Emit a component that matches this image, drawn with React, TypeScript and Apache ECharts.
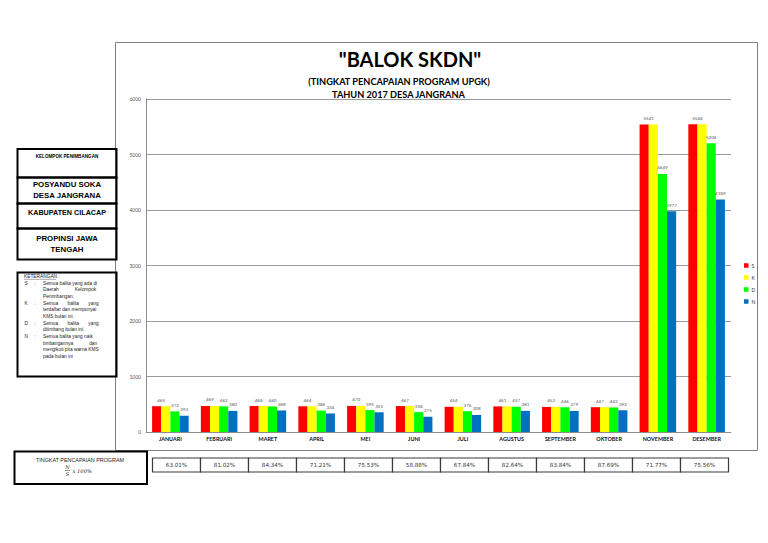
import React, { useEffect, useRef } from "react";
import * as echarts from "echarts";

const months = ["JANUARI", "FEBRUARI", "MARET", "APRIL", "MEI", "JUNI", "JULI", "AGUSTUS", "SEPTEMBER", "OKTOBER", "NOVEMBER", "DESEMBER"];
const sValues = [465, 469, 468, 464, 470, 467, 454, 461, 452, 447, 5541, 5544];
const kValues = [465, 469, 468, 464, 470, 467, 454, 461, 452, 447, 5541, 5544];
const dValues = [372, 462, 460, 386, 395, 358, 376, 457, 446, 442, 4649, 5204];
const nValues = [293, 380, 388, 334, 355, 275, 308, 381, 379, 392, 3977, 4189];
const achievement = ["63.01%", "81.02%", "84.34%", "71.21%", "75.53%", "58.88%", "67.84%", "82.64%", "83.84%", "87.69%", "71.77%", "75.56%"];
const yTicks = { min: 0, max: 6000, interval: 1000 };

const keterangan: [string, string][] = [
  ["S", "Semua balita yang ada di"],
  ["", "Daerah            Kelompok"],
  ["", "Penimbangan."],
  ["K", "Semua       balita       yang"],
  ["", "terdaftar dan mempunyai"],
  ["", "KMS bulan ini."],
  ["D", "Semua       balita       yang"],
  ["", "ditimbang bulan ini."],
  ["N", "Semua balita yang naik"],
  ["", "timbangannya            dan"],
  ["", "mengikuti pita warna KMS"],
  ["", "pada bulan ini"],
];

export default function App() {
  const ref = useRef<HTMLDivElement>(null);
  useEffect(() => {
    const chart = echarts.init(ref.current!, null, { renderer: "svg" });
    const arial = '"Liberation Sans", Arial, sans-serif';
    const cal = 'Lato, "Open Sans", sans-serif';
    const graphics: any[] = [];
    // outer chart box
    graphics.push({ type: "rect", shape: { x: 115.5, y: 42.5, width: 642, height: 408 }, style: { fill: "none", stroke: "#7f7f7f", lineWidth: 1 }, z: 0 });
    // title
    graphics.push({ type: "text", style: { x: 410, y: 58.5, text: '"BALOK SKDN"', textAlign: "center", textVerticalAlign: "middle", fontFamily: cal, fontWeight: "bold", fontSize: 20, fill: "#000" } });
    graphics.push({ type: "text", style: { x: 399, y: 81, text: "(TINGKAT PENCAPAIAN PROGRAM UPGK)", textAlign: "center", textVerticalAlign: "middle", fontFamily: cal, fontWeight: "bold", fontSize: 9.2, fill: "#000" } });
    graphics.push({ type: "text", style: { x: 398.5, y: 94, text: "TAHUN 2017 DESA JANGRANA", textAlign: "center", textVerticalAlign: "middle", fontFamily: cal, fontWeight: "bold", fontSize: 9.2, fill: "#000" } });
    // left info boxes
    const boxes = [
      [149, 177.5],
      [177.5, 203.5],
      [203.5, 228.5],
      [228.5, 259.5],
    ];
    boxes.forEach(([t, b]) => {
      graphics.push({ type: "rect", shape: { x: 17.5, y: t, width: 99, height: b - t }, style: { fill: "none", stroke: "#000", lineWidth: 2 } });
    });
    const boxText = (x: number, y: number, text: string, size: number) => ({ type: "text", style: { x, y, text, textAlign: "center", textVerticalAlign: "middle", fontFamily: arial, fontWeight: "bold", fontSize: size, fill: "#000" } });
    graphics.push(boxText(67, 156.5, "KELOMPOK PENIMBANGAN", 4.6));
    graphics.push(boxText(67, 184.5, "POSYANDU SOKA", 7.8));
    graphics.push(boxText(67, 195.5, "DESA JANGRANA", 7.8));
    graphics.push(boxText(67, 212.5, "KABUPATEN CILACAP", 7.2));
    graphics.push(boxText(67, 238, "PROPINSI JAWA", 7.8));
    graphics.push(boxText(67, 249.5, "TENGAH", 7.8));
    // keterangan box
    graphics.push({ type: "rect", shape: { x: 17.5, y: 272.5, width: 99, height: 104 }, style: { fill: "none", stroke: "#000", lineWidth: 2 } });
    const small = (x: number, y: number, text: string) => ({ type: "text", style: { x, y, text, textAlign: "left", textVerticalAlign: "middle", fontFamily: arial, fontSize: 4.8, fill: "#222" } });
    graphics.push(small(24, 276.5, "KETERANGAN :"));
    graphics.push({ type: "line", shape: { x1: 24, y1: 279.3, x2: 56, y2: 279.3 }, style: { stroke: "#222", lineWidth: 0.4 } });
    keterangan.forEach(([k, t], i) => {
      const y = 283.2 + i * 6.65;
      if (k) {
        graphics.push(small(24.5, y, k));
        graphics.push(small(34.5, y, ":"));
      }
      graphics.push(small(43, y, t));
    });
    // bottom-left box
    graphics.push({ type: "rect", shape: { x: 14.5, y: 451.5, width: 132.5, height: 32.5 }, style: { fill: "none", stroke: "#000", lineWidth: 2 } });
    graphics.push({ type: "text", style: { x: 80, y: 460, text: "TINGKAT PENCAPAIAN PROGRAM", textAlign: "center", textVerticalAlign: "middle", fontFamily: arial, fontSize: 5.4, fill: "#222" } });
    const serif = '"DejaVu Serif", serif';
    graphics.push({ type: "text", style: { x: 67.5, y: 467.2, text: "N", textAlign: "center", textVerticalAlign: "middle", fontFamily: serif, fontStyle: "italic", fontSize: 5, fill: "#222" } });
    graphics.push({ type: "line", shape: { x1: 65, y1: 470.5, x2: 70, y2: 470.5 }, style: { stroke: "#222", lineWidth: 0.5 } });
    graphics.push({ type: "text", style: { x: 67.5, y: 474.2, text: "S", textAlign: "center", textVerticalAlign: "middle", fontFamily: serif, fontStyle: "italic", fontSize: 5, fill: "#222" } });
    graphics.push({ type: "text", style: { x: 72.5, y: 471, text: "x 100%", textAlign: "left", textVerticalAlign: "middle", fontFamily: serif, fontStyle: "italic", fontSize: 5.2, fill: "#222" } });
    // achievement table
    achievement.forEach((v, i) => {
      const x = 152 + i * 48;
      graphics.push({ type: "rect", shape: { x: x + 0.5, y: 458, width: 48, height: 14 }, style: { fill: "#fff", stroke: "#3a3a3a", lineWidth: 1.2 } });
      graphics.push({ type: "text", style: { x: x + 24.5, y: 465, text: v, textAlign: "center", textVerticalAlign: "middle", fontFamily: '"DejaVu Sans", sans-serif', fontSize: 5.6, fill: "#333" } });
    });

    const lbl = (offset: number[]) => ({ show: true, position: "top", distance: 3.5, offset, fontSize: 4.5, color: "#555", fontFamily: cal });
    const option: any = {
      animation: false,
      backgroundColor: "#fff",
      grid: { left: 146, right: 37, top: 99, bottom: 111, containLabel: false },
      legend: {
        orient: "vertical",
        left: 739,
        top: 258,
        itemWidth: 4.5,
        itemHeight: 4.5,
        itemGap: 7,
        icon: "rect",
        textStyle: { fontSize: 5, color: "#333", fontFamily: cal, padding: [0, 0, 0, -2] },
        data: ["S", "K", "D", "N"],
      },
      xAxis: {
        type: "category",
        data: months,
        axisLine: { lineStyle: { color: "#8c8c8c", width: 1 } },
        axisTick: { show: false },
        axisLabel: { fontSize: 5.4, fontWeight: "bold", color: "#111", margin: 4, fontFamily: cal },
      },
      yAxis: {
        type: "value",
        min: yTicks.min,
        max: yTicks.max,
        interval: yTicks.interval,
        axisLine: { show: true, lineStyle: { color: "#8c8c8c", width: 1 } },
        axisTick: { show: false },
        axisLabel: { fontSize: 5, color: "#555", margin: 5, fontFamily: cal, formatter: (v: number) => String(v) },
        splitLine: { lineStyle: { color: "#9a9a9a", width: 1 } },
      },
      series: [
        { name: "S", type: "bar", data: sValues, itemStyle: { color: "#ff0000" }, barGap: "0%", barCategoryGap: "25%", label: lbl([4.5, 0]) },
        { name: "K", type: "bar", data: kValues, itemStyle: { color: "#ffff00" } },
        { name: "D", type: "bar", data: dValues, itemStyle: { color: "#00ff00" }, label: lbl([0, 0]) },
        { name: "N", type: "bar", data: nValues, itemStyle: { color: "#0070c0" }, label: lbl([0, 0]) },
      ],
      graphic: graphics,
    };
    chart.setOption(option);
    return () => chart.dispose();
  }, []);
  return <div ref={ref} style={{ position: "absolute", left: 0, top: 0, width: 768, height: 543, background: "#fff" }} />;
}
